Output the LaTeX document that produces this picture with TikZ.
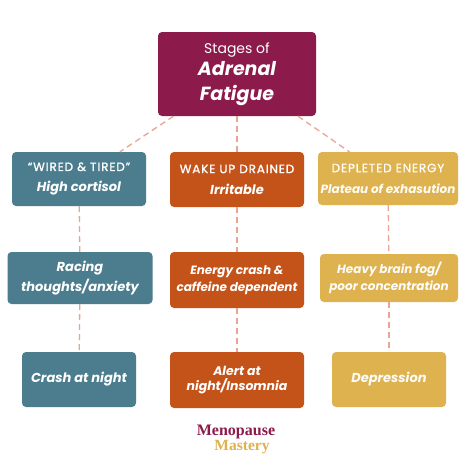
\documentclass[tikz,border=0pt]{standalone}
\usepackage{fontspec}
\setmainfont{Poppins}
\newfontfamily\footfont{Liberation Serif}
\definecolor{maroon}{HTML}{8C1A4B}
\definecolor{tealb}{HTML}{4B7D8E}
\definecolor{rust}{HTML}{C4531A}
\definecolor{gold}{HTML}{DDB24F}
\definecolor{link}{HTML}{E9A592}
\newcommand{\capsfont}{\fontsize{12}{13}\selectfont\addfontfeatures{LetterSpace=7,FakeBold=1.2}}
\newcommand{\emfont}[1]{\fontsize{#1}{19}\selectfont\bfseries\itshape}
\begin{document}
\begin{tikzpicture}[x=1pt,y=-1pt,
  card/.style={rectangle,rounded corners=4pt,inner sep=2pt,align=center,text=white},
  bluecard/.style={card,fill=tealb},
  rustcard/.style={card,fill=rust},
  goldcard/.style={card,fill=gold,text=white!96!gold},
  linkline/.style={draw=link,line width=1.3pt,dash pattern=on 6pt off 4pt}]
\useasboundingbox[fill=white] (0,0) rectangle (474,474);
% top
\node[card,fill=maroon,minimum width=158pt,minimum height=84pt] (top) at (237,74)
  {{\fontsize{14}{18}\selectfont Stages of}\\[4pt]{\fontsize{19}{25}\selectfont\bfseries\itshape Adrenal}\\[8pt]{\fontsize{19}{25}\selectfont\bfseries\itshape Fatigue}};
% row 1
\node[bluecard,minimum width=134pt,minimum height=54pt] (b1) at (79,179)
  {{\capsfont ``WIRED \& TIRED''}\\[9pt]{\emfont{13}High cortisol}};
\node[rustcard,minimum width=134pt,minimum height=55pt] (o1) at (237,179.5)
  {{\capsfont WAKE UP DRAINED}\\[9pt]{\emfont{13}Irritable}};
\node[goldcard,minimum width=140pt,minimum height=53pt] (y1) at (388,178.5)
  {{\capsfont DEPLETED ENERGY}\\[9pt]{\emfont{12}Plateau of exhasution}};
% row 2
\node[bluecard,minimum width=145pt,minimum height=52pt] (b2) at (80,278)
  {\emfont{13}Racing\\[3pt]\emfont{13}thoughts/anxiety};
\node[rustcard,minimum width=134pt,minimum height=56pt] (o2) at (237,280)
  {\emfont{12}Energy crash \&\\[3pt]\emfont{12}caffeine dependent};
\node[goldcard,minimum width=138pt,minimum height=48pt] (y2) at (389,278)
  {\emfont{12}Heavy brain fog/\\[3pt]\emfont{12}poor concentration};
% row 3
\node[bluecard,minimum width=114pt,minimum height=55pt] (b3) at (79,379.5)
  {\emfont{13}Crash at night};
\node[rustcard,minimum width=134pt,minimum height=56pt] (o3) at (237,380)
  {\emfont{12.5}Alert at\\[3pt]\emfont{12.5}night/Insomnia};
\node[goldcard,minimum width=114pt,minimum height=55pt] (y3) at (389,379.5)
  {\emfont{13}Depression};
% connectors
\draw[linkline] (top) -- (b1);
\draw[linkline] (top) -- (o1);
\draw[linkline] (top) -- (y1);
\draw[linkline] (b1) -- (b2);
\draw[linkline] (b2) -- (b3);
\draw[linkline] (o1) -- (o2);
\draw[linkline] (o2) -- (o3);
\draw[linkline] (y1) -- (y2);
\draw[linkline] (y2) -- (y3);
% footer
\node[font=\footfont\bfseries\fontsize{16}{16}\selectfont,text=maroon,inner sep=0pt] (m1) at (236,432) {Menopause};
\node[font=\footfont\bfseries\fontsize{15.5}{16}\selectfont,text=gold,inner sep=0pt] (m2) at (242,447) {Mastery};
\end{tikzpicture}
\end{document}
